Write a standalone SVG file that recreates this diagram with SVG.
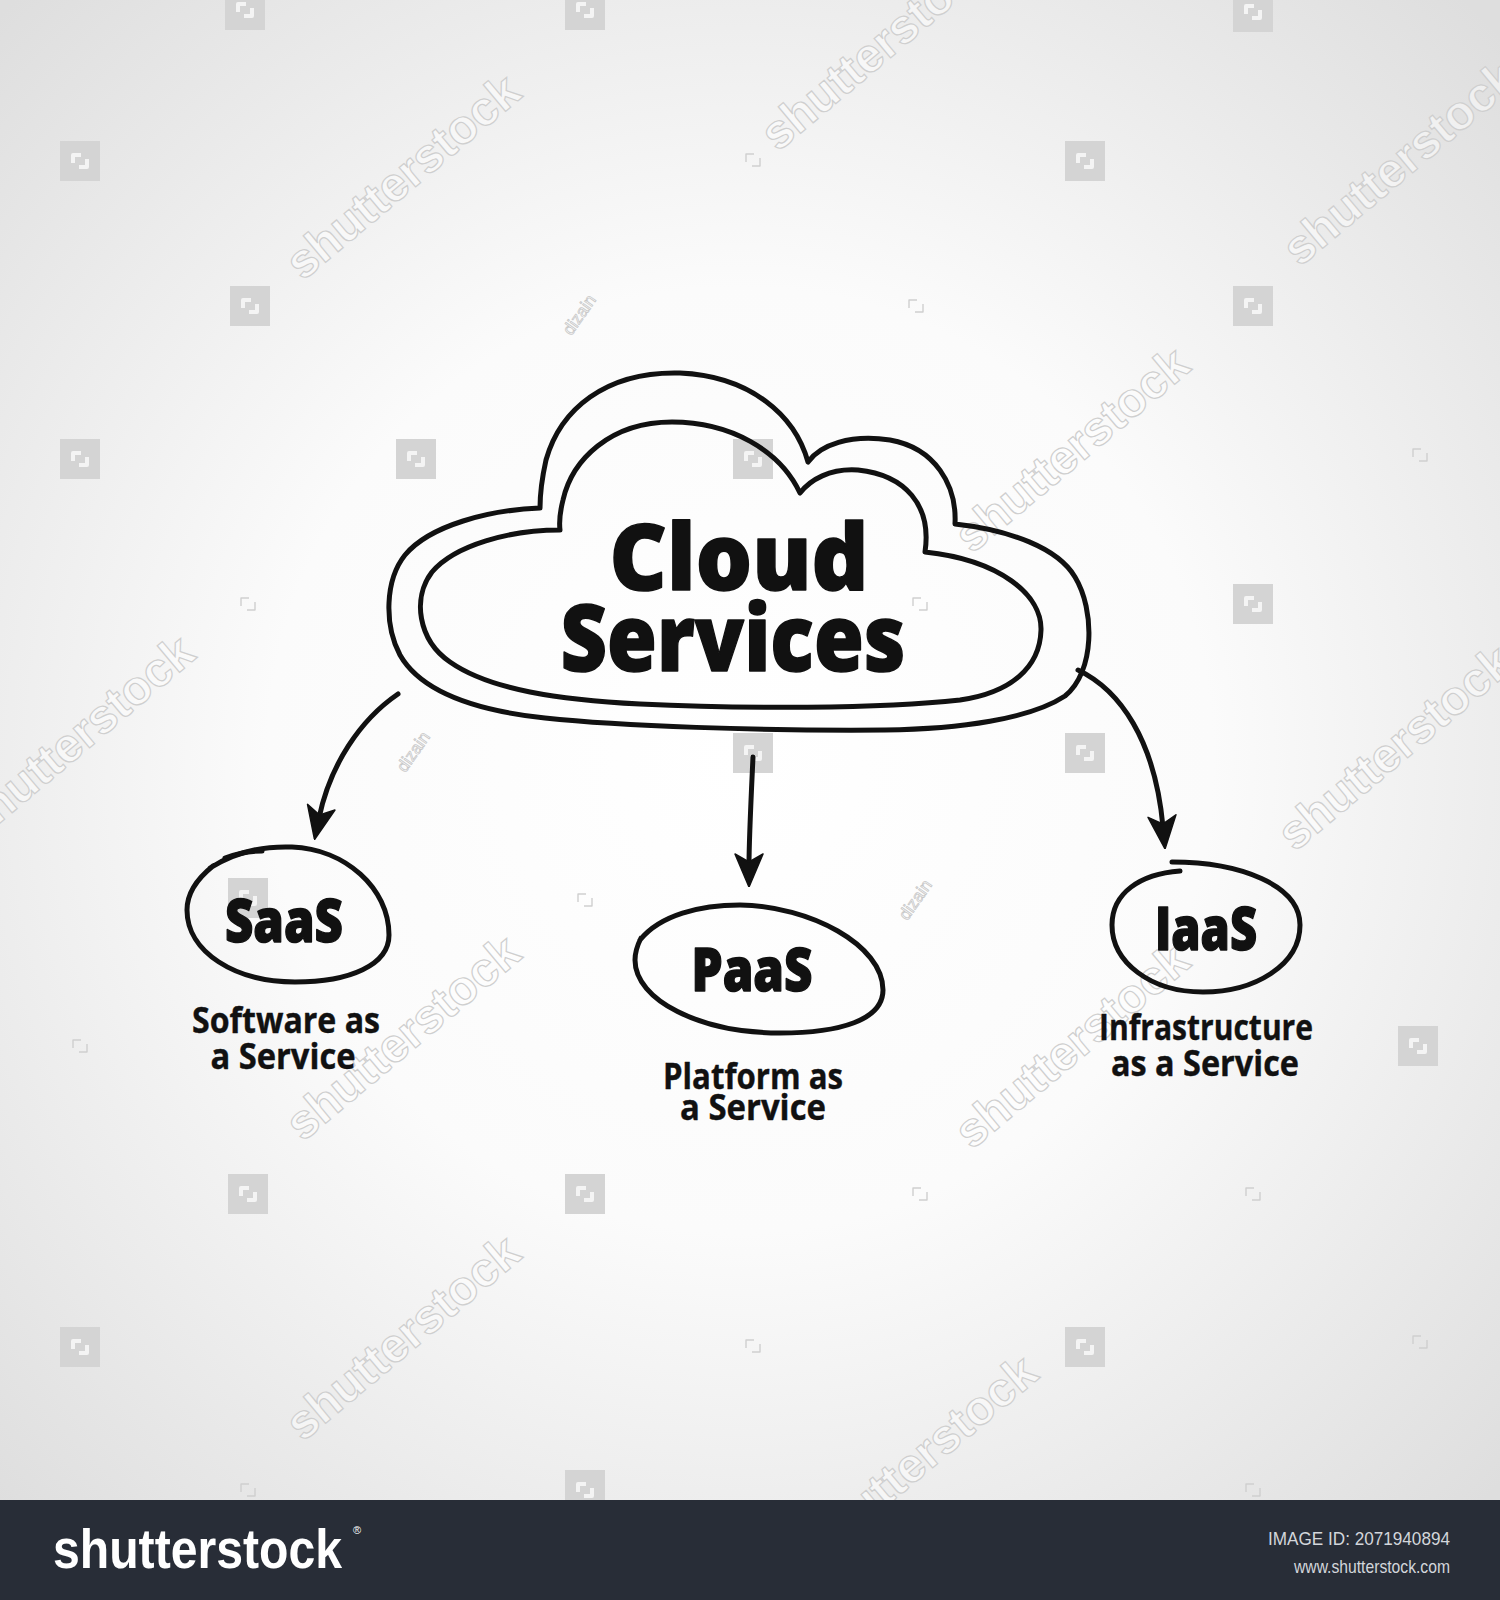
<svg xmlns="http://www.w3.org/2000/svg" width="1500" height="1600" viewBox="0 0 1500 1600">
  <defs>
    <radialGradient id="bg" gradientUnits="userSpaceOnUse" cx="740" cy="760" r="1050">
      <stop offset="0" stop-color="#ffffff"/>
      <stop offset="0.45" stop-color="#fbfbfb"/>
      <stop offset="1" stop-color="#dedede"/>
    </radialGradient>
    <marker id="head" viewBox="-34 -16 36 32" refX="-20" refY="0" markerWidth="36" markerHeight="32" markerUnits="userSpaceOnUse" orient="auto">
      <path d="M2,0 L-31,-14 L-23,0 L-31,14 Z" fill="#111" stroke="#111" stroke-width="1.5" stroke-linejoin="round"/>
    </marker>
    <symbol id="box" viewBox="0 0 40 40" overflow="visible">
      <rect x="0" y="0" width="40" height="40" fill="#d4d4d4"/>
      <path d="M13,22 V14 H21 M27,18 V26 H19" fill="none" stroke="#f4f4f4" stroke-width="4" stroke-linejoin="round"/>
    </symbol>
    <symbol id="ico" viewBox="0 0 40 40" overflow="visible">
      <path d="M13,22 V14 H21 M27,18 V26 H19" fill="none" stroke="#cfcfcf" stroke-width="1.4" stroke-linejoin="round"/>
    </symbol>
  </defs>
  <style>
    .ink { fill: none; stroke: #111; stroke-width: 5; stroke-linecap: round; stroke-linejoin: round; }
    .conn { fill: none; stroke: #111; stroke-width: 5; stroke-linecap: round; marker-end: url(#head); }
    .hand { font-family: "Open Sans", "Noto Sans", "Liberation Sans", sans-serif; font-weight: 800; fill: #111; stroke: #111; stroke-width: 1.5; stroke-linejoin: round; text-anchor: middle; }
    .big { font-size: 92px; }
    .node { font-size: 60px; }
    .lab { font-size: 35px; font-weight: 700; stroke-width: 0.4; }
    .wm { font-family: "Liberation Sans", "Open Sans", sans-serif; font-weight: 700; font-size: 48px; fill: #ffffff; fill-opacity: 0.5; stroke: #cfcfcf; stroke-width: 1.2; text-anchor: middle; }
    .wms { font-family: "Liberation Sans", sans-serif; font-size: 17px; fill: #ffffff; stroke: #c8c8c8; stroke-width: 0.8; text-anchor: middle; }
    .foot { font-family: "Liberation Sans", "DejaVu Sans", sans-serif; fill: #d3d6db; text-anchor: end; font-size: 19px; }
  </style>

  <rect x="0" y="0" width="1500" height="1600" fill="url(#bg)"/>

  <g id="watermark">
    <use href="#box" x="225" y="-10" width="40" height="40"/>
    <use href="#box" x="565" y="-10" width="40" height="40"/>
    <use href="#box" x="1233" y="-8" width="40" height="40"/>
    <use href="#box" x="60" y="141" width="40" height="40"/>
    <use href="#box" x="1065" y="141" width="40" height="40"/>
    <use href="#box" x="230" y="286" width="40" height="40"/>
    <use href="#box" x="1233" y="286" width="40" height="40"/>
    <use href="#box" x="60" y="439" width="40" height="40"/>
    <use href="#box" x="396" y="439" width="40" height="40"/>
    <use href="#box" x="733" y="439" width="40" height="40"/>
    <use href="#box" x="1233" y="584" width="40" height="40"/>
    <use href="#box" x="733" y="733" width="40" height="40"/>
    <use href="#box" x="1065" y="733" width="40" height="40"/>
    <use href="#box" x="228" y="878" width="40" height="40"/>
    <use href="#box" x="1398" y="1026" width="40" height="40"/>
    <use href="#box" x="228" y="1174" width="40" height="40"/>
    <use href="#box" x="565" y="1174" width="40" height="40"/>
    <use href="#box" x="60" y="1327" width="40" height="40"/>
    <use href="#box" x="1065" y="1327" width="40" height="40"/>
    <use href="#box" x="565" y="1470" width="40" height="40"/>
    <use href="#ico" x="733" y="140" width="40" height="40"/>
    <use href="#ico" x="896" y="286" width="40" height="40"/>
    <use href="#ico" x="1400" y="435" width="40" height="40"/>
    <use href="#ico" x="228" y="584" width="40" height="40"/>
    <use href="#ico" x="900" y="584" width="40" height="40"/>
    <use href="#ico" x="565" y="880" width="40" height="40"/>
    <use href="#ico" x="60" y="1026" width="40" height="40"/>
    <use href="#ico" x="900" y="1174" width="40" height="40"/>
    <use href="#ico" x="1233" y="1174" width="40" height="40"/>
    <use href="#ico" x="733" y="1326" width="40" height="40"/>
    <use href="#ico" x="1400" y="1322" width="40" height="40"/>
    <use href="#ico" x="228" y="1470" width="40" height="40"/>
    <use href="#ico" x="1233" y="1470" width="40" height="40"/>
    <text class="wm" transform="translate(413,189) rotate(-40)">shutterstock</text>
    <text class="wm" transform="translate(888,60) rotate(-40)">shutterstock</text>
    <text class="wm" transform="translate(1410,175) rotate(-40)">shutterstock</text>
    <text class="wm" transform="translate(1082,462) rotate(-40)">shutterstock</text>
    <text class="wm" transform="translate(1405,760) rotate(-40)">shutterstock</text>
    <text class="wm" transform="translate(87,750) rotate(-40)">shutterstock</text>
    <text class="wm" transform="translate(413,1050) rotate(-40)">shutterstock</text>
    <text class="wm" transform="translate(1082,1058) rotate(-40)">shutterstock</text>
    <text class="wm" transform="translate(413,1350) rotate(-40)">shutterstock</text>
    <text class="wm" transform="translate(930,1470) rotate(-40)">shutterstock</text>
    <text class="wms" transform="translate(584,318) rotate(-55)">dizain</text>
    <text class="wms" transform="translate(418,755) rotate(-55)">dizain</text>
    <text class="wms" transform="translate(920,903) rotate(-55)">dizain</text>
  </g>

  <g id="node-cloud">
    <path class="ink" d="M540,508 C490,510 430,525 405,555 C385,580 384,625 400,655 C420,690 470,710 545,718 C620,726 760,731 885,730 C960,729 1030,719 1065,696 C1095,672 1095,610 1075,577 C1058,548 1010,530 955,524 C957,485 935,448 890,440 C850,434 820,445 808,462 C795,415 750,376 680,373 C605,371 560,410 546,460 C542,478 540,495 540,508"/>
    <path class="ink" d="M560,530 C510,530 455,545 432,572 C412,598 418,640 450,662 C490,690 560,700 640,704 C740,709 880,709 960,700 C1010,693 1040,668 1041,630 C1042,595 1000,560 925,552 C932,505 905,475 858,470 C830,468 810,480 800,493 C780,450 730,422 672,422 C610,422 572,460 563,500 C560,512 559,522 560,530"/>
    <text class="hand big" x="739" y="590" textLength="259" lengthAdjust="spacingAndGlyphs">Cloud</text>
    <text class="hand big" x="733" y="671" textLength="345" lengthAdjust="spacingAndGlyphs">Services</text>
  </g>

  <g id="node-saas">
    <path class="ink" d="M210,868 C235,852 265,846 292,847 C345,849 389,888 389,935 C389,965 350,982 295,982 C235,982 187,952 187,910 C187,892 198,878 213,866"/>
    <path class="ink" d="M225,858 C238,853 250,851 262,851" stroke-width="3.5"/>
    <text class="hand node" x="284" y="942" textLength="118" lengthAdjust="spacingAndGlyphs">SaaS</text>
    <text class="hand lab" x="286" y="1033" textLength="188" lengthAdjust="spacingAndGlyphs">Software as</text>
    <text class="hand lab" x="283" y="1069" textLength="145" lengthAdjust="spacingAndGlyphs">a Service</text>
  </g>

  <g id="node-paas">
    <path class="ink" d="M640,940 C660,915 700,905 740,905 C810,906 883,945 883,990 C883,1020 840,1033 780,1033 C700,1033 635,1000 635,960 C635,952 637,946 641,938"/>
    <text class="hand node" x="752" y="991" textLength="121" lengthAdjust="spacingAndGlyphs">PaaS</text>
    <text class="hand lab" x="753" y="1089" textLength="180" lengthAdjust="spacingAndGlyphs">Platform as</text>
    <text class="hand lab" x="753" y="1120" textLength="146" lengthAdjust="spacingAndGlyphs">a Service</text>
  </g>

  <g id="node-iaas">
    <path class="ink" d="M1172,862 C1240,862 1300,885 1300,925 C1300,965 1255,992 1203,992 C1150,992 1112,962 1112,925 C1112,893 1140,874 1180,871"/>
    <text class="hand node" x="1206" y="950" textLength="102" lengthAdjust="spacingAndGlyphs">IaaS</text>
    <text class="hand lab" x="1206" y="1040" textLength="214" lengthAdjust="spacingAndGlyphs">Infrastructure</text>
    <text class="hand lab" x="1205" y="1076" textLength="188" lengthAdjust="spacingAndGlyphs">as a Service</text>
  </g>

  <g id="connectors">
    <path class="conn" d="M398,694 C360,720 330,765 319,818"/>
    <path class="conn" d="M753,757 C751,800 749,840 749,865"/>
    <path class="conn" d="M1078,670 C1120,690 1155,740 1163,827"/>
  </g>

  <g id="footer">
    <rect x="0" y="1500" width="1500" height="100" fill="#282d37"/>
    <text x="53" y="1568" font-family="Liberation Sans, DejaVu Sans, sans-serif" font-weight="700" font-size="56" fill="#ffffff" textLength="289" lengthAdjust="spacingAndGlyphs">shutterstock</text>
    <text x="353" y="1534" font-family="Liberation Sans, sans-serif" font-size="11" fill="#ffffff">®</text>
    <text class="foot" x="1450" y="1545" textLength="182" lengthAdjust="spacingAndGlyphs">IMAGE ID: 2071940894</text>
    <text class="foot" x="1450" y="1573" textLength="156" lengthAdjust="spacingAndGlyphs">www.shutterstock.com</text>
  </g>
</svg>
